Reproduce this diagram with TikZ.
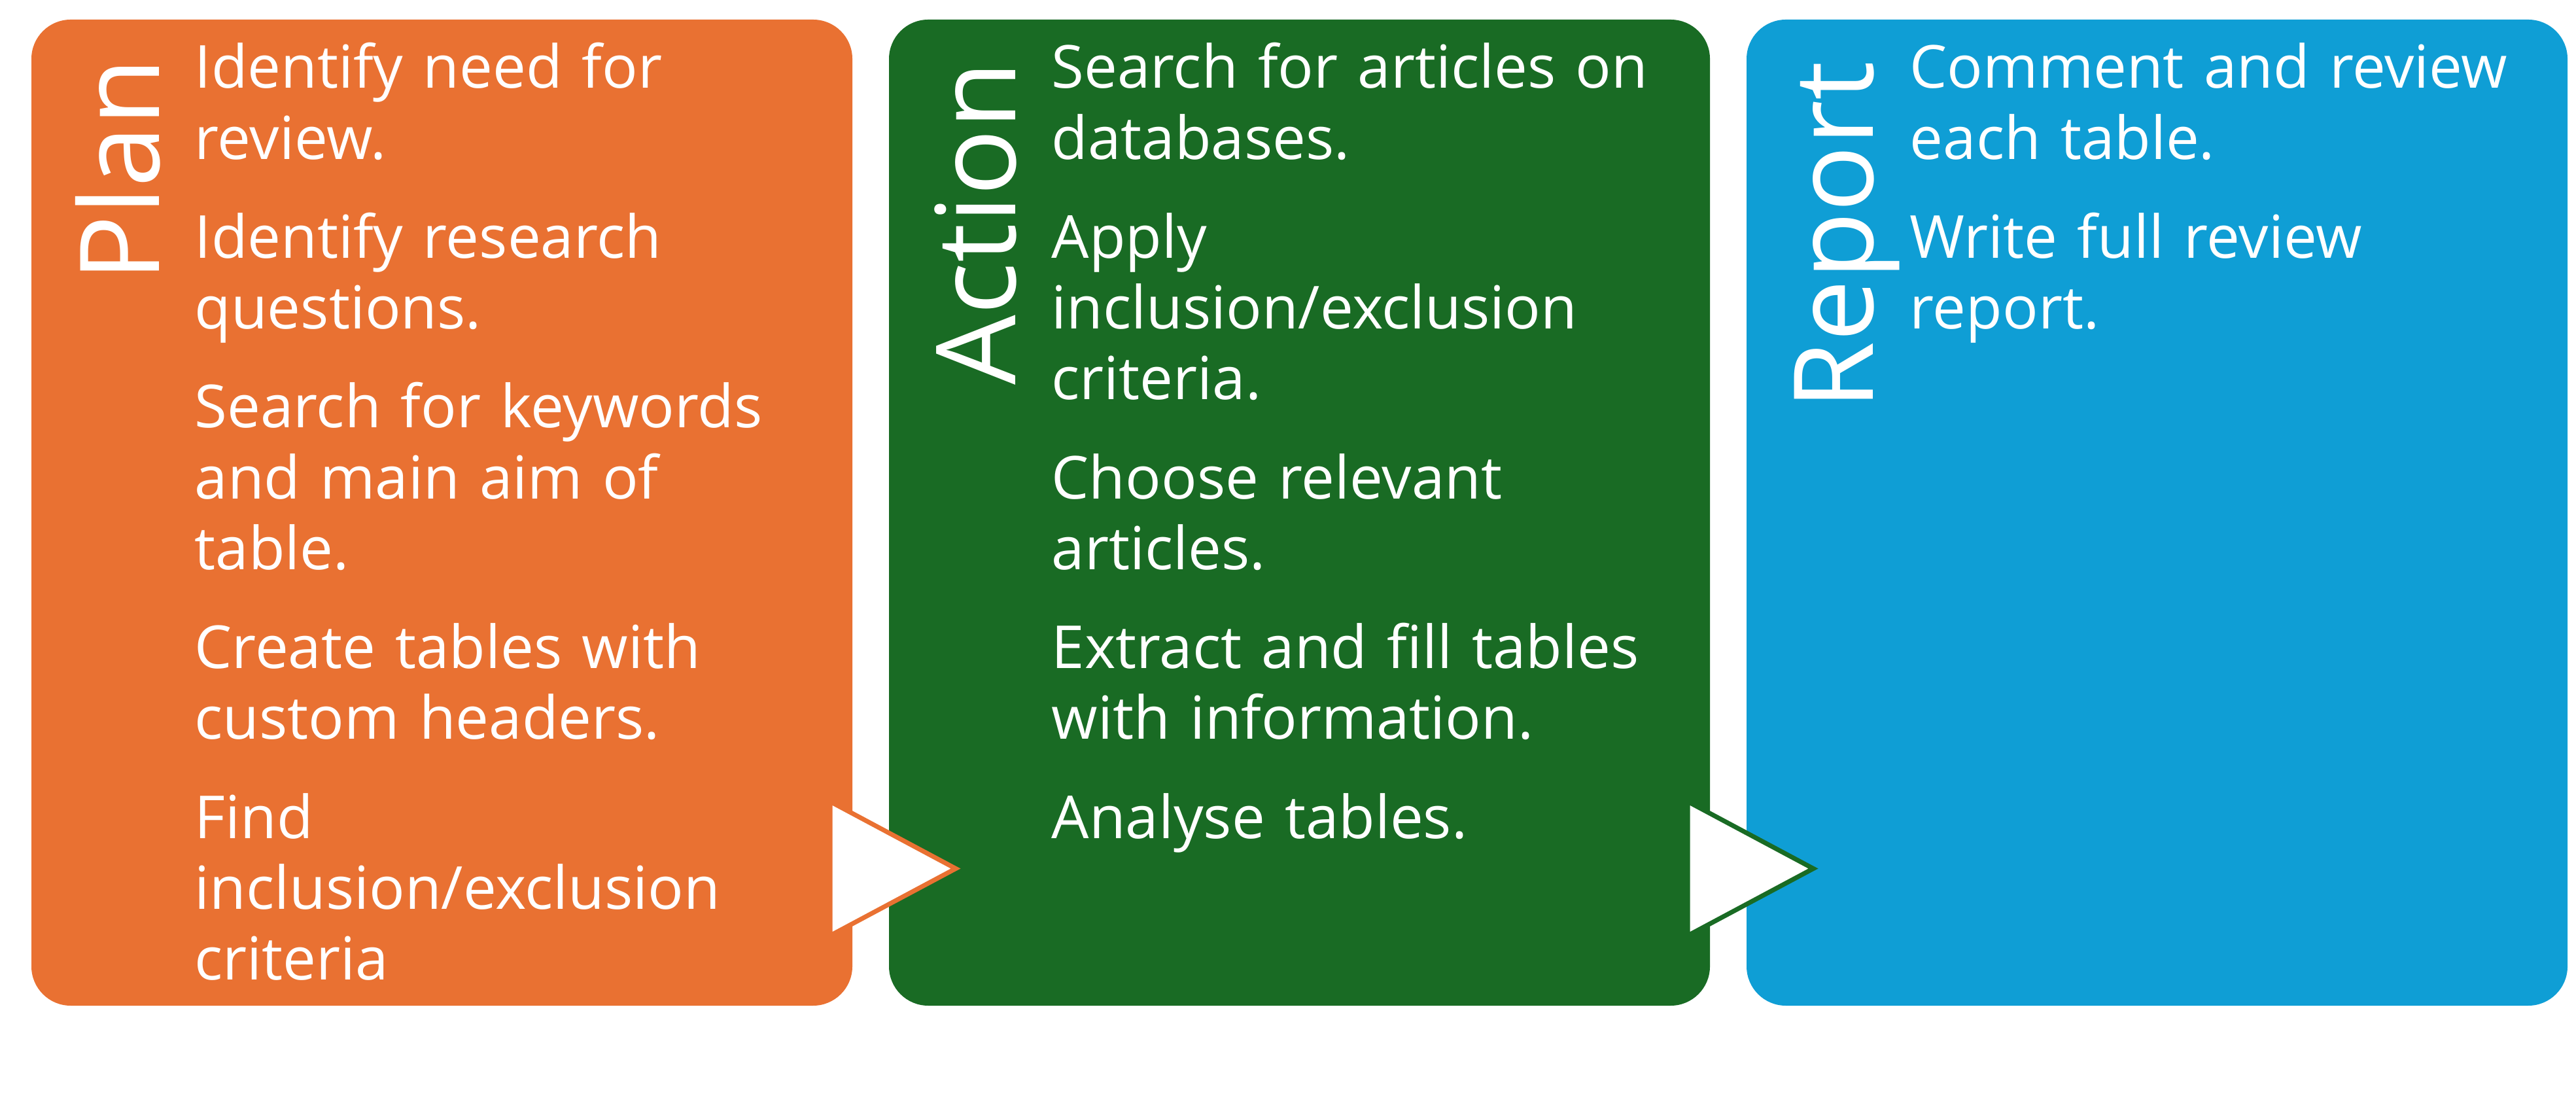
\documentclass[tikz,border=0pt]{standalone}
\usepackage{fontspec}
\setmainfont{Open Sans}
\usepackage{tikz}
\usetikzlibrary{positioning,calc}

\definecolor{planorange}{HTML}{E97132}
\definecolor{actgreen}{HTML}{196B24}
\definecolor{repblue}{HTML}{0F9ED5}

\tikzset{
  stage/.style={rounded corners=0.6cm, minimum width=12.55cm, minimum height=15.07cm,
    inner sep=0pt, outer sep=0pt, anchor=south west},
  stagetitle/.style={text=white, rotate=90, anchor=base east, inner sep=0pt,
    font=\fontsize{48pt}{56pt}\selectfont},
  items/.style={text=white, anchor=base west, inner sep=0pt, align=left, text width=10.4cm,
    font=\fontsize{25.8pt}{30.8pt}\selectfont},
  flowtip/.style={fill=white, line width=2pt, line join=miter}
}

\begin{document}
\begin{tikzpicture}
    \useasboundingbox (0,0) rectangle (39.38,16.97);
    % the three stages
    \node[stage, fill=planorange] (plan) at (0.48,1.60) {};
    \node[stage, fill=actgreen] (action) at (13.59,1.60) {};
    \node[stage, fill=repblue] (report) at (26.70,1.60) {};
    % titles
    \node[stagetitle] (plantitle) at ($(plan.north west)+(1.95,-0.58)$) {Plan};
    \node[stagetitle] (actiontitle) at ($(action.north west)+(1.93,-0.63)$) {Action};
    \node[stagetitle] (reporttitle) at ($(report.north west)+(1.93,-0.63)$) {Report};
    % steps
    \node[items] (planitems) at ($(plan.north west)+(2.49,-1.05)$) {Identify need for\\ review.\\[0.43cm]
        Identify research\\ questions.\\[0.43cm]
        Search for keywords\\ and main aim of\\ table.\\[0.43cm]
        Create tables with\\ custom headers.\\[0.43cm]
        Find\\ inclusion/exclusion\\ criteria};
    \node[items] (actionitems) at ($(action.north west)+(2.48,-1.05)$) {Search for articles on\\ databases.\\[0.43cm]
        Apply\\ inclusion/exclusion\\ criteria.\\[0.43cm]
        Choose relevant\\ articles.\\[0.43cm]
        Extract and fill tables\\ with information.\\[0.43cm]
        Analyse tables.};
    \node[items] (reportitems) at ($(report.north west)+(2.49,-1.05)$) {Comment and review\\ each table.\\[0.43cm]
        Write full review\\ report.};
    % arrow tips between the stages
    \draw[flowtip, draw=planorange] ($(plan.south east)+(-0.34,1.07)$) -- ($(plan.south east)+(1.58,2.095)$)
        -- ($(plan.south east)+(-0.34,3.12)$) -- cycle;
    \draw[flowtip, draw=actgreen] ($(action.south east)+(-0.34,1.07)$) -- ($(action.south east)+(1.58,2.095)$)
        -- ($(action.south east)+(-0.34,3.12)$) -- cycle;
\end{tikzpicture}
\end{document}
